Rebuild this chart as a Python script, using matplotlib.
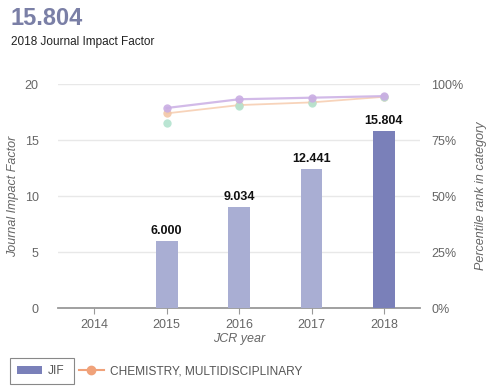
import matplotlib.pyplot as plt
from matplotlib.lines import Line2D
from matplotlib.patches import Patch

plt.rcParams['font.family'] = ['Liberation Sans', 'DejaVu Sans']

# données JCR
annees = [2014, 2015, 2016, 2017, 2018]
jif = [0, 6.000, 9.034, 12.441, 15.804]
etiquettes = ['', '6.000', '9.034', '12.441', '15.804']
couleurs_barres = ['#a9aed3', '#a9aed3', '#a9aed3', '#a9aed3', '#7a80b9']

annees_rang = [2015, 2016, 2017, 2018]
rang_violet = [89.3, 93.2, 93.9, 94.6]
rang_orange = [86.9, 90.6, 91.8, 94.3]
rang_vert = [82.4, 90.2, 91.4, 94.3]

fig = plt.figure(figsize=(4.92, 3.89), dpi=100)
ax = fig.add_axes([0.118, 0.208, 0.736, 0.576])

ax.bar(annees, jif, width=0.3, color=couleurs_barres, zorder=3)
for x, v, t in zip(annees, jif, etiquettes):
    if t:
        ax.text(x, v + 0.35, t, ha='center', va='bottom', fontsize=9, fontweight='bold', color='#111111')

ax.set_xlim(2013.5, 2018.5)
ax.set_ylim(0, 20)
ax.set_yticks([0, 5, 10, 15, 20])
ax.set_xticks(annees)
ax.grid(axis='y', color='#e8e8e8', linewidth=1, zorder=0)
for s in ['top', 'right', 'left']:
    ax.spines[s].set_visible(False)
ax.spines['bottom'].set_color('#999999')
ax.spines['bottom'].set_linewidth(1.3)
ax.tick_params(axis='y', length=0, labelsize=9, labelcolor='#666666', pad=14)
ax.tick_params(axis='x', length=4, color='#999999', labelsize=9, labelcolor='#666666')
ax.set_xlabel('JCR year', fontsize=9, style='italic', color='#666666', labelpad=2)
ax.set_ylabel('Journal Impact Factor', fontsize=9, style='italic', color='#666666', labelpad=4)

ax2 = ax.twinx()
ax2.set_ylim(0, 100)
ax2.set_yticks([0, 25, 50, 75, 100])
ax2.set_yticklabels(['0%', '25%', '50%', '75%', '100%'])
for s in ['top', 'right', 'left', 'bottom']:
    ax2.spines[s].set_visible(False)
ax2.tick_params(axis='y', length=0, labelsize=9, labelcolor='#666666', pad=8)
ax2.set_ylabel('Percentile rank in category', fontsize=9, style='italic', color='#666666', labelpad=8)

ax2.plot(annees_rang, rang_orange, color='#f7cfb3', linewidth=1.3, marker='o', markersize=6,
         markerfacecolor='#f2c7a8', markeredgecolor='none', alpha=0.9, zorder=4)
ax2.plot(annees_rang, rang_vert, color='none', marker='o', markersize=6,
         markerfacecolor='#b3e3cf', markeredgecolor='none', alpha=0.9, zorder=4)
ax2.plot(annees_rang, rang_violet, color='#cdb3e6', linewidth=1.6, marker='o', markersize=6,
         markerfacecolor='#c9ade3', markeredgecolor='none', alpha=0.9, zorder=5)

fig.text(0.022, 0.935, '15.804', fontsize=17, fontweight='bold', color='#7a7fa6')
fig.text(0.022, 0.885, '2018 Journal Impact Factor', fontsize=8.5, color='#222222')

poignees = [Patch(facecolor='#7a80b9', edgecolor='none'),
            Line2D([0], [0], color='#f0a27a', marker='o', markersize=6, linewidth=1.5)]
leg = fig.legend(poignees, ['JIF', 'CHEMISTRY, MULTIDISCIPLINARY'], loc='lower left',
                 bbox_to_anchor=(0.012, 0.002), ncol=2, frameon=False, fontsize=8.6,
                 labelcolor='#555555', handlelength=2.1, handletextpad=0.5, columnspacing=1.2)
# cadre autour de JIF
fig.patches.append(plt.Rectangle((10 / 492, 5 / 389), 64 / 492, 26 / 389, transform=fig.transFigure,
                                 fill=False, edgecolor='#888888', linewidth=0.8))

plt.savefig('out.png', dpi=100)
